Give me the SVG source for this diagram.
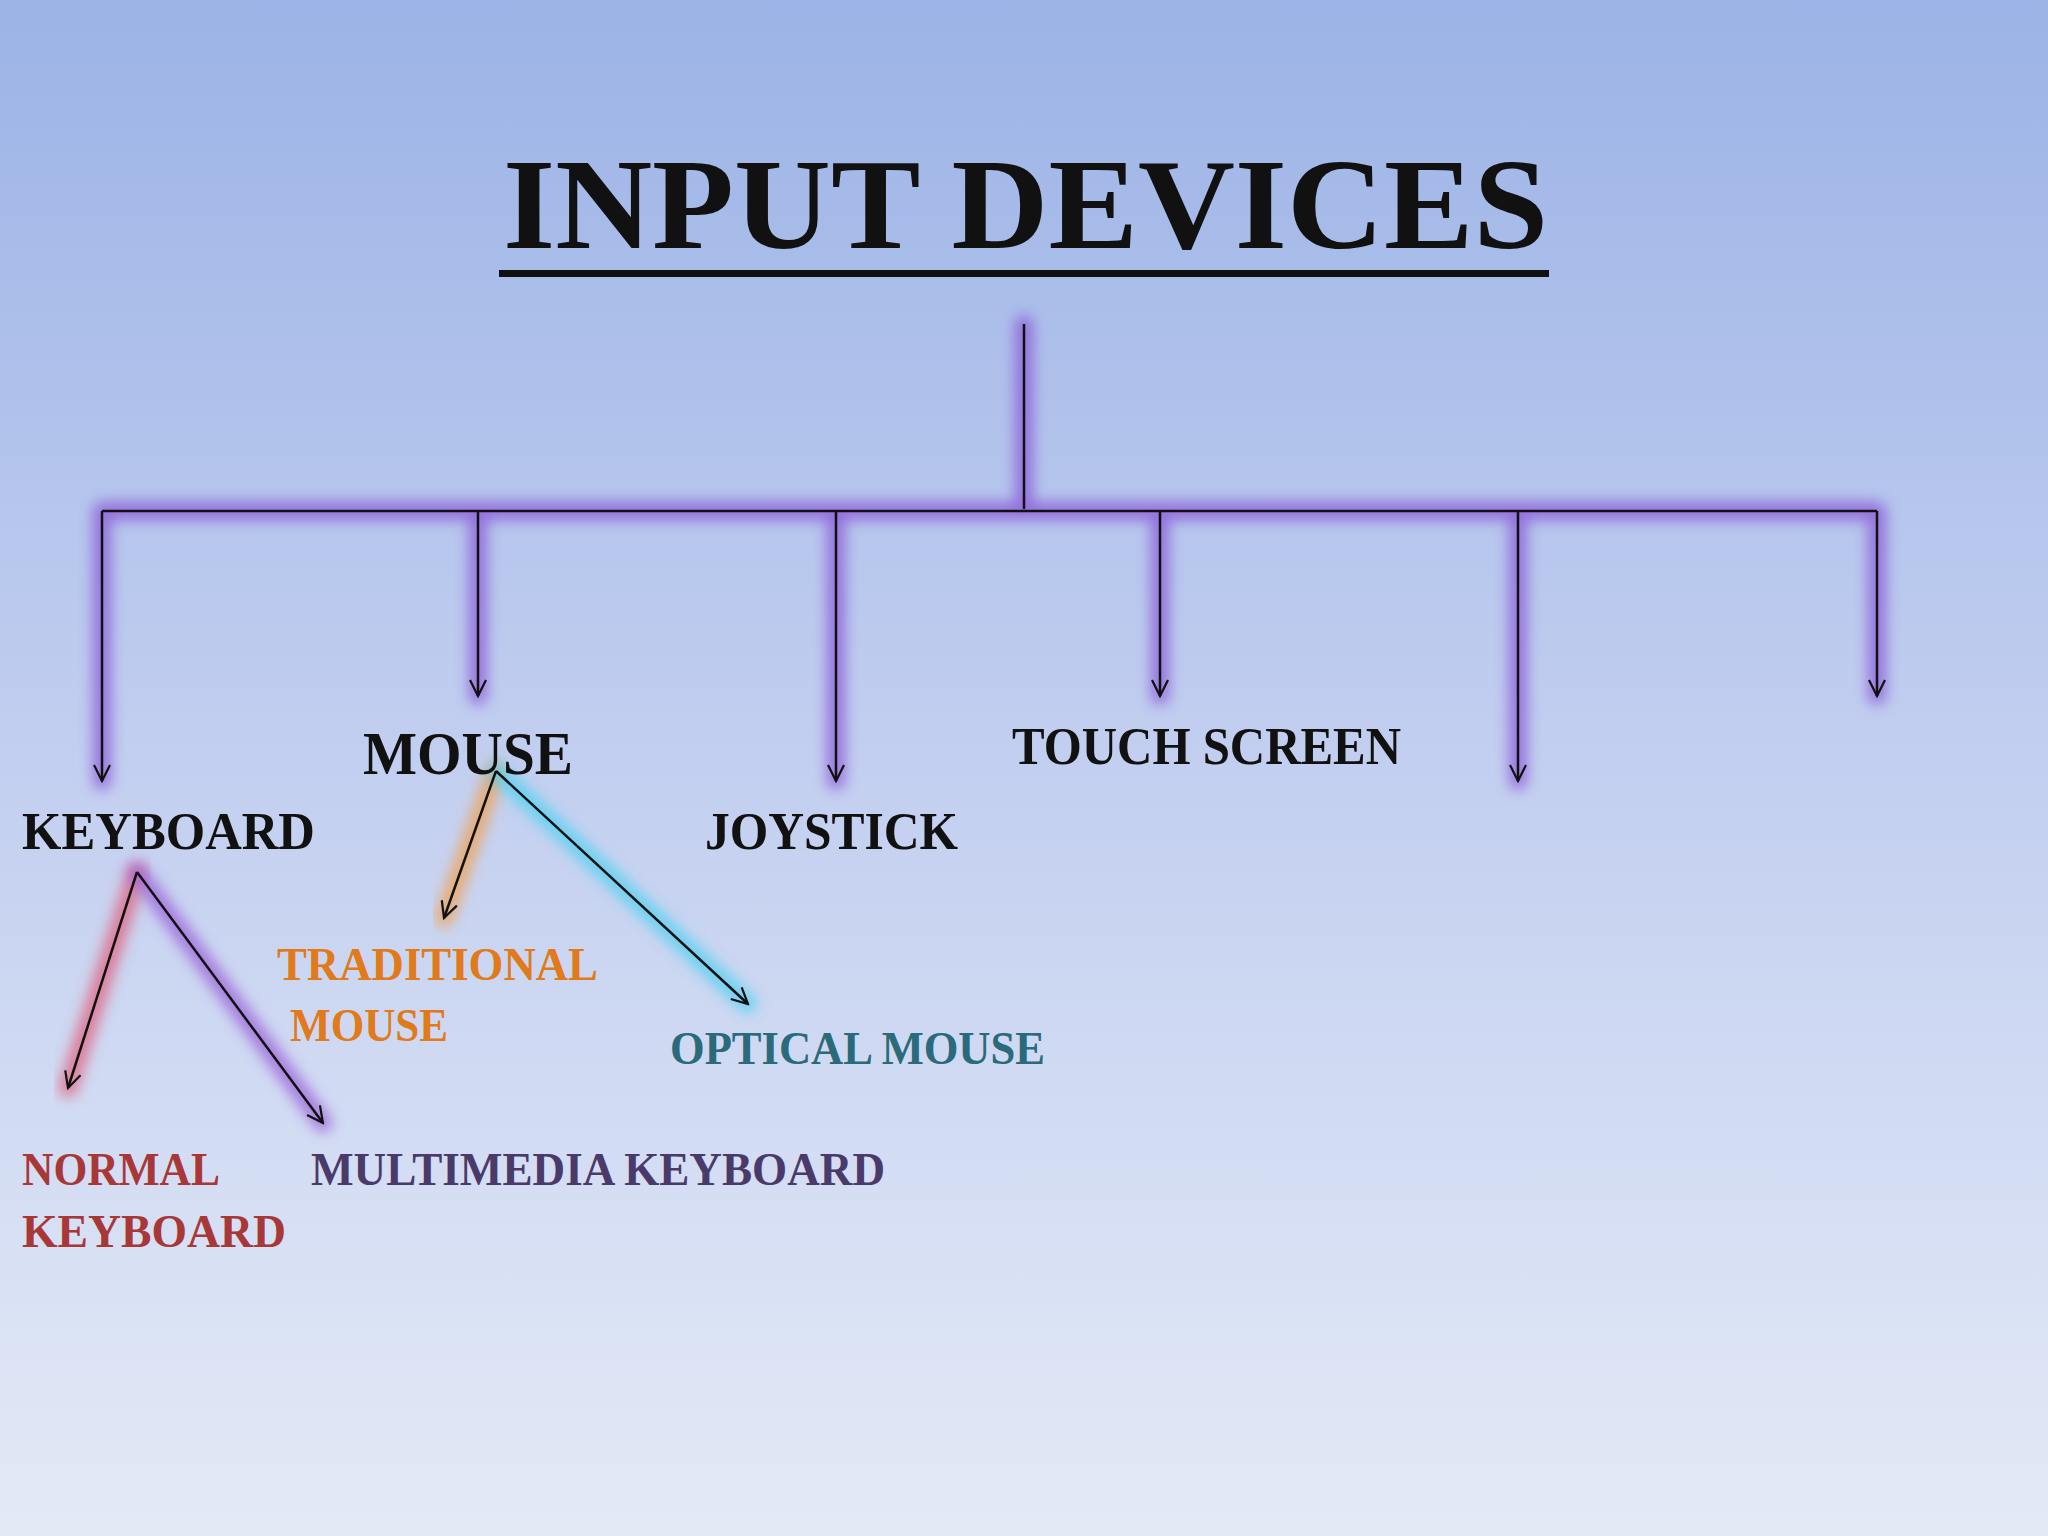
<svg xmlns="http://www.w3.org/2000/svg" width="2048" height="1536" viewBox="0 0 2048 1536">
<defs>
<linearGradient id="bg" x1="0" y1="0" x2="0" y2="1">
<stop offset="0" stop-color="#9bb3e6"/><stop offset="0.5" stop-color="#c3cff0"/><stop offset="1" stop-color="#e3eaf6"/>
</linearGradient>
<filter id="blur" x="-20%" y="-20%" width="140%" height="140%"><feGaussianBlur stdDeviation="7"/></filter>
<marker id="arr" viewBox="0 0 20 20" refX="18" refY="10" markerWidth="20" markerHeight="20" markerUnits="userSpaceOnUse" orient="auto">
<path d="M2,2 L18,10 L2,18" fill="none" stroke="#111" stroke-width="2.2"/>
</marker>
<style>
text{font-family:"Liberation Serif","DejaVu Serif",serif;font-weight:bold}
.c{stroke:#111;stroke-width:2.5;fill:none}
.g{stroke-width:18;fill:none;stroke-linecap:round;filter:url(#blur);opacity:0.8}
</style>
</defs>
<rect width="2048" height="1536" fill="url(#bg)"/>
<g id="title">
<text x="503" y="248" font-size="130" fill="#111" textLength="1045" lengthAdjust="spacingAndGlyphs">INPUT DEVICES</text>
<rect x="499" y="270" width="1050" height="7" fill="#111"/>
</g>
<g id="glow">
<path class="g" stroke="#8a5ad8" d="M1024,324 V509 M102,511 H1877 M102,511 V781 M478,511 V696 M836,511 V781 M1160,511 V696 M1518,511 V781 M1877,511 V696"/>
<path class="g" stroke="#e0607a" d="M137,872 L68,1088"/>
<path class="g" stroke="#9a60d8" d="M137,872 L323,1123"/>
<path class="g" stroke="#f0a050" d="M496,771 L444,918"/>
<path class="g" stroke="#50d0f0" d="M496,771 L748,1004"/>
</g>
<g id="connectors">
<path class="c" d="M1024,324 V509 M102,511 H1877"/>
<path class="c" marker-end="url(#arr)" d="M102,511 V781"/>
<path class="c" marker-end="url(#arr)" d="M478,511 V696"/>
<path class="c" marker-end="url(#arr)" d="M836,511 V781"/>
<path class="c" marker-end="url(#arr)" d="M1160,511 V696"/>
<path class="c" marker-end="url(#arr)" d="M1518,511 V781"/>
<path class="c" marker-end="url(#arr)" d="M1877,511 V696"/>
<path class="c" marker-end="url(#arr)" d="M137,872 L68,1088"/>
<path class="c" marker-end="url(#arr)" d="M137,872 L323,1123"/>
<path class="c" marker-end="url(#arr)" d="M496,771 L444,918"/>
<path class="c" marker-end="url(#arr)" d="M496,771 L748,1004"/>
</g>
<g id="keyboard"><text x="22" y="849" font-size="52" fill="#111" textLength="293" lengthAdjust="spacingAndGlyphs">KEYBOARD</text></g>
<g id="mouse"><text x="363" y="774" font-size="62" fill="#111" textLength="210" lengthAdjust="spacingAndGlyphs">MOUSE</text></g>
<g id="joystick"><text x="705" y="849" font-size="52" fill="#111" textLength="253" lengthAdjust="spacingAndGlyphs">JOYSTICK</text></g>
<g id="touch"><text x="1012" y="764" font-size="52" fill="#111" textLength="389" lengthAdjust="spacingAndGlyphs">TOUCH SCREEN</text></g>
<g id="normal"><text font-size="46" fill="#a83838"><tspan x="22" y="1185" textLength="198" lengthAdjust="spacingAndGlyphs">NORMAL</tspan><tspan x="22" y="1247" textLength="264" lengthAdjust="spacingAndGlyphs">KEYBOARD</tspan></text></g>
<g id="multimedia"><text x="311" y="1185" font-size="46" fill="#4a3a6a" textLength="574" lengthAdjust="spacingAndGlyphs">MULTIMEDIA KEYBOARD</text></g>
<g id="traditional"><text font-size="46" fill="#e07a1a"><tspan x="277" y="980" textLength="321" lengthAdjust="spacingAndGlyphs">TRADITIONAL</tspan><tspan x="290" y="1041" textLength="158" lengthAdjust="spacingAndGlyphs">MOUSE</tspan></text></g>
<g id="optical"><text x="670" y="1064" font-size="46" fill="#2a6a7a" textLength="375" lengthAdjust="spacingAndGlyphs">OPTICAL MOUSE</text></g>
</svg>
